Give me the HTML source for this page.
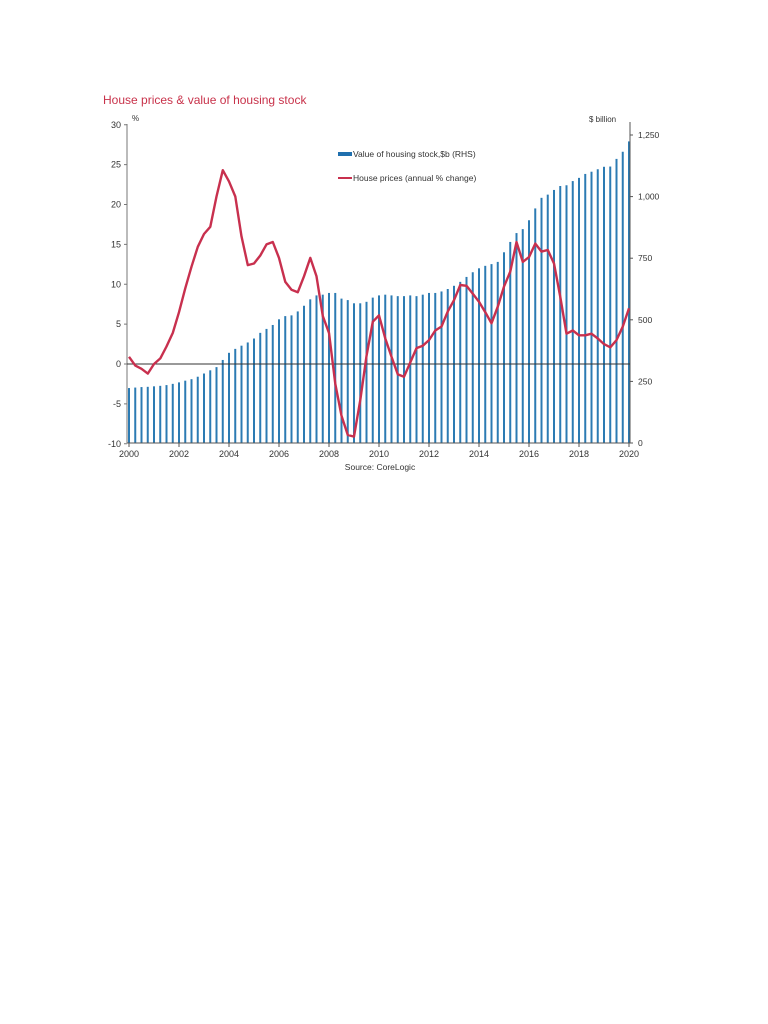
<!DOCTYPE html>
<html><head><meta charset="utf-8"><style>
html,body{margin:0;padding:0;background:#fff;width:768px;height:1024px;overflow:hidden}
svg text{font-family:"Liberation Sans",sans-serif;fill:#333}
</style></head><body>
<svg id="chart" width="768" height="1024" xmlns="http://www.w3.org/2000/svg">
<text x="103" y="104" font-size="12" style="fill:#c8324a">House prices &amp; value of housing stock</text>
<text x="132" y="121" font-size="8">%</text>
<text x="589" y="122" font-size="8">$ billion</text>
<g id="bars"></g>
<g id="axes"></g>
<path id="line" fill="none" stroke="#c8304e" stroke-width="2.4" stroke-linejoin="round"/>
<g>
<rect x="338" y="152" width="14" height="4" fill="#1f6fae"/>
<text x="353" y="157" font-size="8.5">Value of housing stock,$b (RHS)</text>
<rect x="338" y="177" width="14" height="2" fill="#c8304e"/>
<text x="353" y="181" font-size="8.5">House prices (annual % change)</text>
</g>
<text x="380" y="470" font-size="8.5" text-anchor="middle">Source: CoreLogic</text>
</svg>
<script>
const stockValues=[223,225,227,228,230,232,235,240,246,253,259,269,282,295,308,337,366,382,395,408,424,447,463,479,502,515,518,534,557,583,599,602,609,609,586,580,567,567,573,590,599,602,599,596,596,599,596,602,609,609,615,625,638,654,674,693,709,719,726,735,774,816,852,868,904,952,995,1008,1027,1043,1046,1063,1076,1092,1101,1111,1121,1122,1153,1182,1224];
const priceChange=[0.9,-0.2,-0.6,-1.2,0.0,0.7,2.2,3.9,6.5,9.5,12.2,14.7,16.3,17.2,21,24.3,22.9,21,16,12.4,12.6,13.6,15.0,15.3,13.3,10.3,9.3,9.0,11.0,13.3,11.0,6.0,3.9,-2.5,-6.5,-8.9,-9.1,-4.5,1.0,5.3,6.1,3.2,0.9,-1.3,-1.6,0.2,2.0,2.3,3.0,4.2,4.7,6.6,8.0,9.9,9.8,8.8,7.8,6.5,5.1,7.2,9.7,11.6,15.3,12.8,13.4,15.1,14.1,14.3,12.6,8.4,3.8,4.2,3.6,3.6,3.8,3.2,2.5,2.1,3.0,4.7,7.0];
const leftTicks=[30,25,20,15,10,5,0,-5,-10];
const rightTicks=[0,250,500,750,1000,1250];
const rightTickLabels=["0","250","500","750","1,000","1,250"];
const yearTicks=[2000,2002,2004,2006,2008,2010,2012,2014,2016,2018,2020];

const NS="http://www.w3.org/2000/svg";
const X0=129,X1=629,T0=2000,T1=2020;
const xq=i=>X0+(X1-X0)*(i/4)/(T1-T0);
const xy=y=>X0+(X1-X0)*(y-T0)/(T1-T0);
const yL=v=>364-(v)*(319/40);
const yR=v=>443-v*(308/1250);
function mk(tag,attrs,parent){const e=document.createElementNS(NS,tag);for(const k in attrs)e.setAttribute(k,attrs[k]);parent.appendChild(e);return e;}
const bars=document.getElementById('bars'),axes=document.getElementById('axes');
stockValues.forEach((v,i)=>{
  const r=mk('rect',{x:xq(i)-1,y:yR(v),width:2,height:443-yR(v),fill:'#2c7bb3'},bars);
  
  
});
// axes
let a=mk('line',{x1:127,y1:124,x2:127,y2:443,stroke:'#777','stroke-width':1},axes);

a=mk('line',{x1:630,y1:122,x2:630,y2:443,stroke:'#555','stroke-width':1},axes);

a=mk('line',{x1:127,y1:443,x2:630,y2:443,stroke:'#555','stroke-width':1},axes);

a=mk('line',{x1:127,y1:yL(0),x2:630,y2:yL(0),stroke:'#333','stroke-width':1},axes);

leftTicks.forEach(v=>{
  mk('line',{x1:124,y1:yL(v),x2:127,y2:yL(v),stroke:'#777'},axes);
  const t=mk('text',{x:121,y:yL(v)+3,'font-size':9,'text-anchor':'end'},axes);t.textContent=v;
  
  
});
rightTicks.forEach((v,i)=>{
  mk('line',{x1:630,y1:yR(v),x2:633,y2:yR(v),stroke:'#555'},axes);
  const t=mk('text',{x:638,y:yR(v)+3,'font-size':8.5},axes);t.textContent=rightTickLabels[i];
  
  
});
yearTicks.forEach(y=>{
  mk('line',{x1:xy(y),y1:443,x2:xy(y),y2:447,stroke:'#555'},axes);
  const t=mk('text',{x:xy(y),y:457,'font-size':9,'text-anchor':'middle'},axes);t.textContent=y;
  
  
});
document.getElementById('line').setAttribute('d',priceChange.map((v,i)=>(i?'L':'M')+xq(i).toFixed(1)+','+yL(v).toFixed(1)).join(''));
</script>
</body></html>
